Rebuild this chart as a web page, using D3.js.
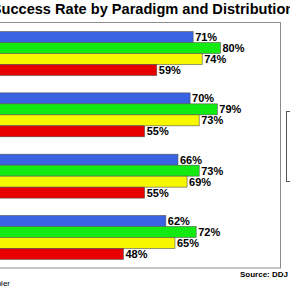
<!DOCTYPE html>
<html>
<head>
<meta charset="utf-8">
<script src="https://cdn.jsdelivr.net/npm/d3@7"></script>
<style>
  body { margin: 0; background: #fff; }
  svg { display: block; font-family: Arial, "Liberation Sans", sans-serif; }
</style>
</head>
<body>
<div id="chart-container"></div>
<script>
const w = 290;
const h = 290;

// paradigms (bar groups, top to bottom)
const paradigms = ["Iterative", "Agile", "Traditional", "Ad-Hoc"];
// distribution levels (bars inside each group)
const distributions = ["Co-located", "Near Located", "Far Located", "Overall"];
const colors = ["#3a63e3", "#12ea12", "#f7f700", "#e80000"];

const coLocated = [71, 70, 66, 62];
const nearLocated = [80, 79, 73, 72];
const farLocated = [74, 73, 69, 65];
const overall = [59, 55, 55, 48];
const seriesValues = [coLocated, nearLocated, farLocated, overall];

const svg = d3.select("#chart-container")
  .append("svg")
  .attr("width", w)
  .attr("height", h);

// title (chart is cropped on the left and right)
svg.append("text")
  .attr("x", 143)
  .attr("y", 14)
  .attr("text-anchor", "middle")
  .style("font-size", "14.6px")
  .style("font-weight", "bold")
  .text("Success Rate by Paradigm and Distribution");

// plot area border
svg.append("rect")
  .attr("x", -10)
  .attr("y", 22.5)
  .attr("width", 290.5)
  .attr("height", 245.5)
  .attr("fill", "none")
  .attr("stroke", "#8c8c8c");

const x = d3.scaleLinear().domain([0, 100]).range([-22, 281]);
const y = d3.scaleBand()
  .domain(paradigms)
  .range([23, 268])
  .paddingInner(0.283)
  .paddingOuter(0.14);
const ySub = d3.scaleBand()
  .domain(distributions)
  .range([0, y.bandwidth()]);

const rows = [];
paradigms.forEach((p, i) => {
  distributions.forEach((s, j) => {
    rows.push({ paradigm: p, series: s, value: seriesValues[j][i], color: colors[j] });
  });
});

const groups = svg.selectAll("g.bar")
  .data(rows)
  .join("g")
  .attr("class", "bar")
  .attr("transform", (d) => { return "translate(0," + (y(d.paradigm) + ySub(d.series)) + ")" });

groups.append("rect")
  .attr("x", x(0))
  .attr("y", 0)
  .attr("width", (d) => { return x(d.value) - x(0) })
  .attr("height", ySub.bandwidth())
  .style("fill", (d) => { return d.color })
  .attr("stroke", "#555")
  .attr("stroke-width", 0.6);

groups.append("text")
  .attr("x", (d) => { return x(d.value) + 2 })
  .attr("y", ySub.bandwidth() / 2)
  .attr("dy", "0.36em")
  .style("font-size", "11px")
  .style("font-weight", "bold")
  .text((d) => { return d.value + "%" });

// legend box (mostly outside the visible area)
svg.append("rect")
  .attr("x", 286.5)
  .attr("y", 111.5)
  .attr("width", 90)
  .attr("height", 70)
  .attr("fill", "none")
  .attr("stroke", "#555");

svg.append("text")
  .attr("x", 288)
  .attr("y", 277)
  .attr("text-anchor", "end")
  .style("font-size", "8px")
  .style("font-weight", "bold")
  .text("Source: DDJ");

svg.append("text")
  .attr("x", 10)
  .attr("y", 286)
  .attr("text-anchor", "end")
  .style("font-size", "8px")
  .text("Copyright 2008 Scott W. Ambler");
</script>
</body>
</html>
